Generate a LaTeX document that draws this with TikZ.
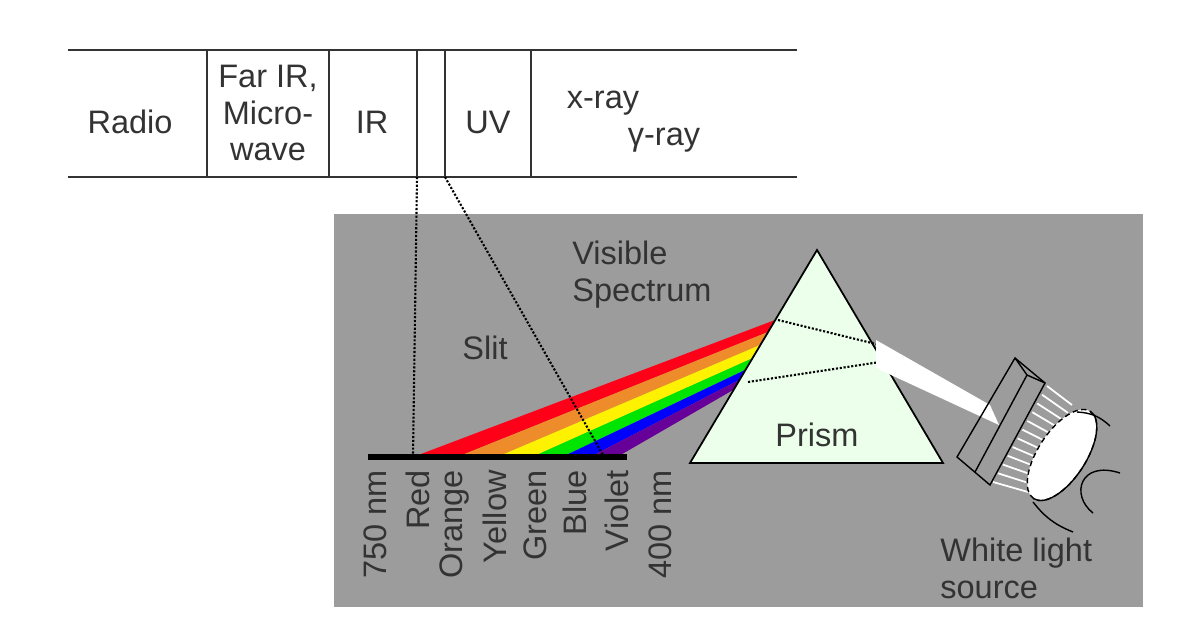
\documentclass[tikz,border=0pt]{standalone}
\usepackage{fontspec}
\setmainfont{Liberation Sans}
\usetikzlibrary{calc}
\begin{document}
\begin{tikzpicture}[x=0.02cm,y=-0.02cm,
  lab/.style={font=\fontsize{18.5}{21}\selectfont,text=black!80,inner sep=0pt},
  dots/.style={densely dotted,line width=1.2pt}]
\useasboundingbox (0,0) rectangle (1185,635);
\fill[white] (0,0) rectangle (1185,635);
% table
\draw[line width=1pt,black!80] (68,50) -- (797,50) (68,177) -- (797,177);
\foreach \x in {207,329,417,445,531} \draw[line width=1pt,black!80] (\x,50) -- (\x,177);
\node[lab] (radio) at (130,122) {Radio};
\node[lab,align=center] (far) at (268,113) {Far IR,\\Micro-\\wave};
\node[lab] (ir) at (372,122) {IR};
\node[lab] (uv) at (488,122) {UV};
\node[lab] (xr) at (603,103) {x-ray};
\node[lab] (gr) at (664,140) {γ-ray};
% panel
\fill[black!39] (334,214) rectangle (1143,607);
\coordinate (s1) at (417,177); \coordinate (s2) at (445,177);
% rainbow
\fill[red!90!magenta] (413,457) -- (775,320) -- (768,332) -- (457,457) -- cycle;
\fill[orange!70!brown!90!white] (457,457) -- (768,332) -- (760,345) -- (497,457) -- cycle;
\fill[yellow] (497,457) -- (760,345) -- (753,358) -- (532,457) -- cycle;
\fill[green!90!black] (532,457) -- (753,358) -- (745,370) -- (562,457) -- cycle;
\fill[blue] (562,457) -- (745,370) -- (739,380) -- (590,457) -- cycle;
\fill[violet!80!blue] (590,457) -- (739,380) -- (733,390) -- (617,457) -- cycle;
\draw[line width=3pt] (368,457) -- (627,457);
\draw[dots] (s1) -- (413,455);
\draw[dots] (s2) -- (603,455);
% prism
\draw[fill=green!8,line width=1pt] (817,250) -- (690,463) -- (943,463) -- cycle;
\draw[dots] (778,320) -- (880,345);
\draw[dots] (748,382) -- (880,362);
\fill[white] (876,340) -- (990,405) -- (999,425) -- (876,368) -- cycle;
\node[lab] (prism) at (817,435) {Prism};
% light source
\coordinate (c) at (1062,455);
\foreach \i in {0,...,11}{
  \pgfmathsetmacro\t{\i/11}
  \draw[white,line width=1pt] ($(1047,386)!\t!(993,482)$) -- ($(1072,405)!\t!(1028,492)$);
}
\fill[white,rotate around={57:(c)}] (c) ellipse[x radius=52,y radius=24];
\draw[densely dashed,line width=0.8pt,rotate around={57:(c)}] (c) ellipse[x radius=52,y radius=24];
\draw[line width=0.8pt,rotate around={57:(c)}] ($(c)+(52,0)$) arc[start angle=0,end angle=180,x radius=52,y radius=24];
\draw[line width=0.8pt] (1015,358) -- (1045,383) -- (990,485) -- (957,457) -- cycle;
\draw[line width=0.8pt] (1015,358) -- (1027,375) -- (1045,383) (1027,375) -- (975,472);
\draw[line width=0.8pt] (1077,412) to[bend left=20] (1110,426);
\draw[line width=0.8pt] (1120,473) .. controls (1080,460) and (1070,495) .. (1093,513);
\draw[line width=0.8pt] (1033,502) to[bend right=15] (1073,532);
% labels
\node[lab,align=left,anchor=west] (vis) at (572,275) {Visible\\Spectrum};
\node[lab] (slit) at (485,348) {Slit};
\node[lab,align=left,anchor=north west] (wls) at (940,538) {White light\\source};
\foreach \x/\t in {375/750 nm,418/Red,455/Orange,495/Yellow,535/Green,575/Blue,617/Violet,660/400 nm}
  \node[lab,rotate=90,anchor=east] at (\x,470) {\t};
\end{tikzpicture}
\end{document}
